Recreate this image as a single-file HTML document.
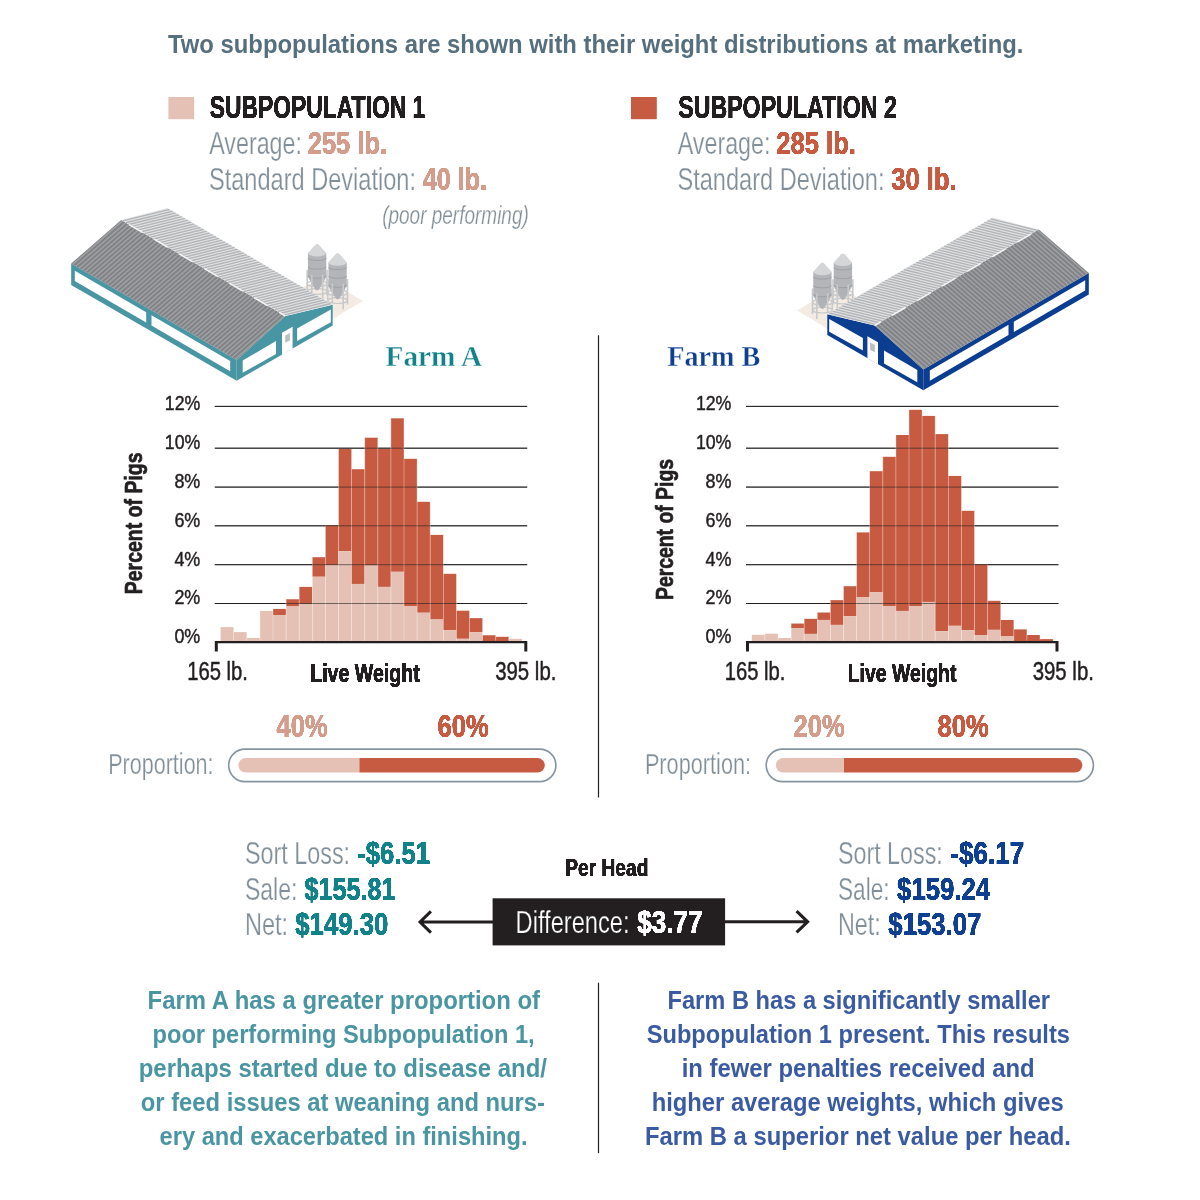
<!DOCTYPE html>
<html lang="en"><head><meta charset="utf-8"><title>Farm subpopulations</title>
<style>html,body{margin:0;padding:0;background:#fff}svg{display:block}</style></head><body>
<svg width="1200" height="1200" viewBox="0 0 1200 1200">
<defs><filter id="bx" x="-3%" y="-12%" width="106%" height="124%" color-interpolation-filters="sRGB"><feGaussianBlur stdDeviation="0.7 0"/><feComponentTransfer><feFuncA type="linear" slope="4"/></feComponentTransfer></filter></defs>
<rect width="1200" height="1200" fill="#fff"/>
<text x="168.00" y="52.50" font-family='"Liberation Sans", sans-serif' font-size="25.44" font-weight="700" fill="#566f7e" textLength="855.40" lengthAdjust="spacingAndGlyphs">Two subpopulations are shown with their weight distributions at marketing.</text>
<rect x="168.4" y="97.0" width="25.8" height="22.2" fill="#e4c1b4"/>
<text x="209.70" y="117.60" font-family='"Liberation Sans", sans-serif' font-size="31.40" font-weight="700" fill="#231f20" filter="url(#bx)" textLength="215.60" lengthAdjust="spacingAndGlyphs">SUBPOPULATION 1</text>
<text x="209.20" y="153.80" font-family='"Liberation Sans", sans-serif' font-size="31.40" font-weight="400" fill="#808f9a" stroke="#fff" stroke-width="0.25" textLength="92.80" lengthAdjust="spacingAndGlyphs">Average:</text>
<text x="307.80" y="153.80" font-family='"Liberation Sans", sans-serif' font-size="31.40" font-weight="700" fill="#d39c8b" filter="url(#bx)" textLength="79.20" lengthAdjust="spacingAndGlyphs">255 lb.</text>
<text x="209.00" y="189.80" font-family='"Liberation Sans", sans-serif' font-size="31.40" font-weight="400" fill="#808f9a" stroke="#fff" stroke-width="0.25" textLength="207.00" lengthAdjust="spacingAndGlyphs">Standard Deviation:</text>
<text x="422.80" y="189.80" font-family='"Liberation Sans", sans-serif' font-size="31.40" font-weight="700" fill="#d39c8b" filter="url(#bx)" textLength="64.20" lengthAdjust="spacingAndGlyphs">40 lb.</text>
<rect x="631.0" y="97.0" width="25.8" height="22.2" fill="#c65b42"/>
<text x="678.20" y="117.60" font-family='"Liberation Sans", sans-serif' font-size="31.40" font-weight="700" fill="#231f20" filter="url(#bx)" textLength="218.60" lengthAdjust="spacingAndGlyphs">SUBPOPULATION 2</text>
<text x="677.70" y="153.80" font-family='"Liberation Sans", sans-serif' font-size="31.40" font-weight="400" fill="#808f9a" stroke="#fff" stroke-width="0.25" textLength="92.80" lengthAdjust="spacingAndGlyphs">Average:</text>
<text x="776.30" y="153.80" font-family='"Liberation Sans", sans-serif' font-size="31.40" font-weight="700" fill="#c65b42" filter="url(#bx)" textLength="79.60" lengthAdjust="spacingAndGlyphs">285 lb.</text>
<text x="677.50" y="189.80" font-family='"Liberation Sans", sans-serif' font-size="31.40" font-weight="400" fill="#808f9a" stroke="#fff" stroke-width="0.25" textLength="207.00" lengthAdjust="spacingAndGlyphs">Standard Deviation:</text>
<text x="891.30" y="189.80" font-family='"Liberation Sans", sans-serif' font-size="31.40" font-weight="700" fill="#c65b42" filter="url(#bx)" textLength="65.40" lengthAdjust="spacingAndGlyphs">30 lb.</text>
<text x="382.20" y="224.30" font-family='"Liberation Sans", sans-serif' font-size="25.58" font-weight="400" fill="#808f9a" font-style="italic" stroke="#fff" stroke-width="0.25" textLength="146.60" lengthAdjust="spacingAndGlyphs">(poor performing)</text>
<line x1="598.5" y1="335.2" x2="598.5" y2="797.4" stroke="#231f20" stroke-width="1.2"/>
<line x1="598.5" y1="982.7" x2="598.5" y2="1153.2" stroke="#231f20" stroke-width="1.2"/>
<text x="385.60" y="365.80" font-family='"Liberation Serif", serif' font-size="30.23" font-weight="700" fill="#11828a" stroke="#fff" stroke-width="0.4" textLength="96.60" lengthAdjust="spacingAndGlyphs">Farm A</text>
<text x="667.20" y="365.80" font-family='"Liberation Serif", serif' font-size="30.23" font-weight="700" fill="#0f3f90" stroke="#fff" stroke-width="0.4" textLength="93.20" lengthAdjust="spacingAndGlyphs">Farm B</text>
<g transform="">
<polygon points="298,290.2 321.9,276.4 362.9,301 331,320" fill="#f4ebe3"/>
<path d="M307.20,269.85 V291.05 M327.00,269.85 V295.25" stroke="#c7c9cb" stroke-width="1.6" fill="none"/><ellipse cx="317.1" cy="283.65" rx="9.9" ry="2.9" fill="none" stroke="#c7c9cb" stroke-width="1.2"/><ellipse cx="317.1" cy="291.45" rx="9.9" ry="2.9" fill="none" stroke="#c7c9cb" stroke-width="1.2"/><path d="M307.95000000000005,275.55 L307.95000000000005,277.05 L315.5,289.65 L317.1,290.45 L318.70000000000005,289.65 L326.25,277.05 L326.25,275.55 Z" fill="#b0b2b5"/><path d="M307.95000000000005,253.04999999999998 L307.95000000000005,275.55 A9.15,2.6 0 0 0 326.25,275.55 L326.25,253.04999999999998 Z" fill="#b3b5b8"/><path d="M307.95000000000005,258.15 A9.15,2.3 0 0 0 326.25,258.15" fill="none" stroke="#97999c" stroke-width="0.75"/><path d="M307.95000000000005,266.85 A9.15,2.3 0 0 0 326.25,266.85" fill="none" stroke="#97999c" stroke-width="0.75"/><path d="M307.95000000000005,275.55 A9.15,2.6 0 0 0 326.25,275.55" fill="none" stroke="#97999c" stroke-width="0.75"/><path d="M307.95000000000005,253.04999999999998 L315.3,244.75 Q317.1,243.15 318.90000000000003,244.75 L326.25,253.04999999999998 A9.15,3.5 0 0 1 307.95000000000005,253.04999999999998 Z" fill="#d4d6d7"/><path d="M311.80,274.65 V293.85 M322.70,274.65 V300.25" stroke="#c7c9cb" stroke-width="1.6" fill="none"/>
<path d="M327.70,279.0 V300.2 M347.50,279.0 V304.4" stroke="#c7c9cb" stroke-width="1.6" fill="none"/><ellipse cx="337.6" cy="292.8" rx="9.9" ry="2.9" fill="none" stroke="#c7c9cb" stroke-width="1.2"/><ellipse cx="337.6" cy="300.6" rx="9.9" ry="2.9" fill="none" stroke="#c7c9cb" stroke-width="1.2"/><path d="M328.45000000000005,284.7 L328.45000000000005,286.2 L336.0,298.8 L337.6,299.6 L339.20000000000005,298.8 L346.75,286.2 L346.75,284.7 Z" fill="#b0b2b5"/><path d="M328.45000000000005,262.2 L328.45000000000005,284.7 A9.15,2.6 0 0 0 346.75,284.7 L346.75,262.2 Z" fill="#b3b5b8"/><path d="M328.45000000000005,267.3 A9.15,2.3 0 0 0 346.75,267.3" fill="none" stroke="#97999c" stroke-width="0.75"/><path d="M328.45000000000005,276.0 A9.15,2.3 0 0 0 346.75,276.0" fill="none" stroke="#97999c" stroke-width="0.75"/><path d="M328.45000000000005,284.7 A9.15,2.6 0 0 0 346.75,284.7" fill="none" stroke="#97999c" stroke-width="0.75"/><path d="M328.45000000000005,262.2 L335.8,253.9 Q337.6,252.3 339.40000000000003,253.9 L346.75,262.2 A9.15,3.5 0 0 1 328.45000000000005,262.2 Z" fill="#d4d6d7"/><path d="M332.30,283.8 V303.0 M343.20,283.8 V309.4" stroke="#c7c9cb" stroke-width="1.6" fill="none"/>
<polygon points="71.2,263.5 236.7,360 236.7,380.7 71.2,285" fill="#4896a3"/>
<polygon points="236.7,360 285.3,316 332.7,304.7 332.7,325.4 236.7,380.7" fill="#4896a3"/>
<polygon points="74.8,270.69 146.2,312.22 146.2,322.42 74.8,280.89" fill="#fff"/>
<polygon points="151.5,315.30 230.2,361.07 230.2,371.27 151.5,325.50" fill="#fff"/>
<polygon points="242.7,360.5 276,341.1 276,353.9 242.7,372.8" fill="#fff"/>
<polygon points="297.1,328.5 330.8,309.6 330.8,322.2 297.1,341.1" fill="#fff"/>
<polygon points="282.0,332.8 292.6,326.8 292.6,348.7 282.0,355.0" fill="#fff"/>
<polygon points="285.1,335.5 289.9,333.1 289.9,340.5 285.1,342.7" fill="#bcbec0"/>
<clipPath id="c85523ba"><polygon points="71.2,263.5 121.2,220 285.3,316 236.7,360"/></clipPath>
<clipPath id="c85523bb"><polygon points="121.2,220 167.5,208.1 332.7,304.7 285.3,316"/></clipPath>
<polygon points="71.2,263.5 121.2,220 285.3,316 236.7,360" fill="#808285"/>
<path d="M72.76,264.41l50,-43.7M75.88,266.23l50,-43.7M79.01,268.05l50,-43.7M82.13,269.87l50,-43.7M85.25,271.69l50,-43.7M88.37,273.51l50,-43.7M91.50,275.33l50,-43.7M94.62,277.16l50,-43.7M97.74,278.98l50,-43.7M100.87,280.80l50,-43.7M103.99,282.62l50,-43.7M107.11,284.44l50,-43.7M110.23,286.26l50,-43.7M113.36,288.08l50,-43.7M116.48,289.90l50,-43.7M119.60,291.72l50,-43.7M122.72,293.54l50,-43.7M125.85,295.36l50,-43.7M128.97,297.18l50,-43.7M132.09,299.00l50,-43.7M135.21,300.83l50,-43.7M138.34,302.65l50,-43.7M141.46,304.47l50,-43.7M144.58,306.29l50,-43.7M147.70,308.11l50,-43.7M150.83,309.93l50,-43.7M153.95,311.75l50,-43.7M157.07,313.57l50,-43.7M160.20,315.39l50,-43.7M163.32,317.21l50,-43.7M166.44,319.03l50,-43.7M169.56,320.85l50,-43.7M172.69,322.67l50,-43.7M175.81,324.50l50,-43.7M178.93,326.32l50,-43.7M182.05,328.14l50,-43.7M185.18,329.96l50,-43.7M188.30,331.78l50,-43.7M191.42,333.60l50,-43.7M194.54,335.42l50,-43.7M197.67,337.24l50,-43.7M200.79,339.06l50,-43.7M203.91,340.88l50,-43.7M207.03,342.70l50,-43.7M210.16,344.52l50,-43.7M213.28,346.34l50,-43.7M216.40,348.17l50,-43.7M219.53,349.99l50,-43.7M222.65,351.81l50,-43.7M225.77,353.63l50,-43.7M228.89,355.45l50,-43.7M232.02,357.27l50,-43.7M235.14,359.09l50,-43.7" stroke="#9d9fa2" stroke-width="1.6" fill="none" clip-path="url(#c85523ba)"/>
<polygon points="121.2,220 167.5,208.1 332.7,304.7 285.3,316" fill="#e1e2e3"/>
<path d="M122.75,220.91l47,-11.6M125.84,222.72l47,-11.6M128.94,224.53l47,-11.6M132.04,226.34l47,-11.6M135.13,228.15l47,-11.6M138.23,229.96l47,-11.6M141.33,231.77l47,-11.6M144.42,233.58l47,-11.6M147.52,235.40l47,-11.6M150.61,237.21l47,-11.6M153.71,239.02l47,-11.6M156.81,240.83l47,-11.6M159.90,242.64l47,-11.6M163.00,244.45l47,-11.6M166.10,246.26l47,-11.6M169.19,248.08l47,-11.6M172.29,249.89l47,-11.6M175.38,251.70l47,-11.6M178.48,253.51l47,-11.6M181.58,255.32l47,-11.6M184.67,257.13l47,-11.6M187.77,258.94l47,-11.6M190.87,260.75l47,-11.6M193.96,262.57l47,-11.6M197.06,264.38l47,-11.6M200.15,266.19l47,-11.6M203.25,268.00l47,-11.6M206.35,269.81l47,-11.6M209.44,271.62l47,-11.6M212.54,273.43l47,-11.6M215.63,275.25l47,-11.6M218.73,277.06l47,-11.6M221.83,278.87l47,-11.6M224.92,280.68l47,-11.6M228.02,282.49l47,-11.6M231.12,284.30l47,-11.6M234.21,286.11l47,-11.6M237.31,287.92l47,-11.6M240.40,289.74l47,-11.6M243.50,291.55l47,-11.6M246.60,293.36l47,-11.6M249.69,295.17l47,-11.6M252.79,296.98l47,-11.6M255.89,298.79l47,-11.6M258.98,300.60l47,-11.6M262.08,302.42l47,-11.6M265.17,304.23l47,-11.6M268.27,306.04l47,-11.6M271.37,307.85l47,-11.6M274.46,309.66l47,-11.6M277.56,311.47l47,-11.6M280.66,313.28l47,-11.6M283.75,315.09l47,-11.6" stroke="#b2b4b7" stroke-width="1.35" fill="none" clip-path="url(#c85523bb)"/>
<line x1="121.2" y1="220" x2="285.3" y2="316" stroke="#f4f4f5" stroke-width="1.5" stroke-dasharray="16 13" stroke-dashoffset="-9"/>
</g>
<g transform="translate(1160,9.5) scale(-1,1)">
<polygon points="298,290.2 321.9,276.4 362.9,301 331,320" fill="#f4ebe3"/>
<path d="M307.20,269.85 V291.05 M327.00,269.85 V295.25" stroke="#c7c9cb" stroke-width="1.6" fill="none"/><ellipse cx="317.1" cy="283.65" rx="9.9" ry="2.9" fill="none" stroke="#c7c9cb" stroke-width="1.2"/><ellipse cx="317.1" cy="291.45" rx="9.9" ry="2.9" fill="none" stroke="#c7c9cb" stroke-width="1.2"/><path d="M307.95000000000005,275.55 L307.95000000000005,277.05 L315.5,289.65 L317.1,290.45 L318.70000000000005,289.65 L326.25,277.05 L326.25,275.55 Z" fill="#b0b2b5"/><path d="M307.95000000000005,253.04999999999998 L307.95000000000005,275.55 A9.15,2.6 0 0 0 326.25,275.55 L326.25,253.04999999999998 Z" fill="#b3b5b8"/><path d="M307.95000000000005,258.15 A9.15,2.3 0 0 0 326.25,258.15" fill="none" stroke="#97999c" stroke-width="0.75"/><path d="M307.95000000000005,266.85 A9.15,2.3 0 0 0 326.25,266.85" fill="none" stroke="#97999c" stroke-width="0.75"/><path d="M307.95000000000005,275.55 A9.15,2.6 0 0 0 326.25,275.55" fill="none" stroke="#97999c" stroke-width="0.75"/><path d="M307.95000000000005,253.04999999999998 L315.3,244.75 Q317.1,243.15 318.90000000000003,244.75 L326.25,253.04999999999998 A9.15,3.5 0 0 1 307.95000000000005,253.04999999999998 Z" fill="#d4d6d7"/><path d="M311.80,274.65 V293.85 M322.70,274.65 V300.25" stroke="#c7c9cb" stroke-width="1.6" fill="none"/>
<path d="M327.70,279.0 V300.2 M347.50,279.0 V304.4" stroke="#c7c9cb" stroke-width="1.6" fill="none"/><ellipse cx="337.6" cy="292.8" rx="9.9" ry="2.9" fill="none" stroke="#c7c9cb" stroke-width="1.2"/><ellipse cx="337.6" cy="300.6" rx="9.9" ry="2.9" fill="none" stroke="#c7c9cb" stroke-width="1.2"/><path d="M328.45000000000005,284.7 L328.45000000000005,286.2 L336.0,298.8 L337.6,299.6 L339.20000000000005,298.8 L346.75,286.2 L346.75,284.7 Z" fill="#b0b2b5"/><path d="M328.45000000000005,262.2 L328.45000000000005,284.7 A9.15,2.6 0 0 0 346.75,284.7 L346.75,262.2 Z" fill="#b3b5b8"/><path d="M328.45000000000005,267.3 A9.15,2.3 0 0 0 346.75,267.3" fill="none" stroke="#97999c" stroke-width="0.75"/><path d="M328.45000000000005,276.0 A9.15,2.3 0 0 0 346.75,276.0" fill="none" stroke="#97999c" stroke-width="0.75"/><path d="M328.45000000000005,284.7 A9.15,2.6 0 0 0 346.75,284.7" fill="none" stroke="#97999c" stroke-width="0.75"/><path d="M328.45000000000005,262.2 L335.8,253.9 Q337.6,252.3 339.40000000000003,253.9 L346.75,262.2 A9.15,3.5 0 0 1 328.45000000000005,262.2 Z" fill="#d4d6d7"/><path d="M332.30,283.8 V303.0 M343.20,283.8 V309.4" stroke="#c7c9cb" stroke-width="1.6" fill="none"/>
<polygon points="71.2,263.5 236.7,360 236.7,380.7 71.2,285" fill="#0b3d91"/>
<polygon points="236.7,360 285.3,316 332.7,304.7 332.7,325.4 236.7,380.7" fill="#0b3d91"/>
<polygon points="74.8,270.69 146.2,312.22 146.2,322.42 74.8,280.89" fill="#fff"/>
<polygon points="151.5,315.30 230.2,361.07 230.2,371.27 151.5,325.50" fill="#fff"/>
<polygon points="242.7,360.5 276,341.1 276,353.9 242.7,372.8" fill="#fff"/>
<polygon points="297.1,328.5 330.8,309.6 330.8,322.2 297.1,341.1" fill="#fff"/>
<polygon points="282.0,332.8 292.6,326.8 292.6,348.7 282.0,355.0" fill="#fff"/>
<polygon points="285.1,335.5 289.9,333.1 289.9,340.5 285.1,342.7" fill="#bcbec0"/>
<clipPath id="c9c04d2a"><polygon points="71.2,263.5 121.2,220 285.3,316 236.7,360"/></clipPath>
<clipPath id="c9c04d2b"><polygon points="121.2,220 167.5,208.1 332.7,304.7 285.3,316"/></clipPath>
<polygon points="71.2,263.5 121.2,220 285.3,316 236.7,360" fill="#808285"/>
<path d="M72.76,264.41l50,-43.7M75.88,266.23l50,-43.7M79.01,268.05l50,-43.7M82.13,269.87l50,-43.7M85.25,271.69l50,-43.7M88.37,273.51l50,-43.7M91.50,275.33l50,-43.7M94.62,277.16l50,-43.7M97.74,278.98l50,-43.7M100.87,280.80l50,-43.7M103.99,282.62l50,-43.7M107.11,284.44l50,-43.7M110.23,286.26l50,-43.7M113.36,288.08l50,-43.7M116.48,289.90l50,-43.7M119.60,291.72l50,-43.7M122.72,293.54l50,-43.7M125.85,295.36l50,-43.7M128.97,297.18l50,-43.7M132.09,299.00l50,-43.7M135.21,300.83l50,-43.7M138.34,302.65l50,-43.7M141.46,304.47l50,-43.7M144.58,306.29l50,-43.7M147.70,308.11l50,-43.7M150.83,309.93l50,-43.7M153.95,311.75l50,-43.7M157.07,313.57l50,-43.7M160.20,315.39l50,-43.7M163.32,317.21l50,-43.7M166.44,319.03l50,-43.7M169.56,320.85l50,-43.7M172.69,322.67l50,-43.7M175.81,324.50l50,-43.7M178.93,326.32l50,-43.7M182.05,328.14l50,-43.7M185.18,329.96l50,-43.7M188.30,331.78l50,-43.7M191.42,333.60l50,-43.7M194.54,335.42l50,-43.7M197.67,337.24l50,-43.7M200.79,339.06l50,-43.7M203.91,340.88l50,-43.7M207.03,342.70l50,-43.7M210.16,344.52l50,-43.7M213.28,346.34l50,-43.7M216.40,348.17l50,-43.7M219.53,349.99l50,-43.7M222.65,351.81l50,-43.7M225.77,353.63l50,-43.7M228.89,355.45l50,-43.7M232.02,357.27l50,-43.7M235.14,359.09l50,-43.7" stroke="#9d9fa2" stroke-width="1.6" fill="none" clip-path="url(#c9c04d2a)"/>
<polygon points="121.2,220 167.5,208.1 332.7,304.7 285.3,316" fill="#e1e2e3"/>
<path d="M122.75,220.91l47,-11.6M125.84,222.72l47,-11.6M128.94,224.53l47,-11.6M132.04,226.34l47,-11.6M135.13,228.15l47,-11.6M138.23,229.96l47,-11.6M141.33,231.77l47,-11.6M144.42,233.58l47,-11.6M147.52,235.40l47,-11.6M150.61,237.21l47,-11.6M153.71,239.02l47,-11.6M156.81,240.83l47,-11.6M159.90,242.64l47,-11.6M163.00,244.45l47,-11.6M166.10,246.26l47,-11.6M169.19,248.08l47,-11.6M172.29,249.89l47,-11.6M175.38,251.70l47,-11.6M178.48,253.51l47,-11.6M181.58,255.32l47,-11.6M184.67,257.13l47,-11.6M187.77,258.94l47,-11.6M190.87,260.75l47,-11.6M193.96,262.57l47,-11.6M197.06,264.38l47,-11.6M200.15,266.19l47,-11.6M203.25,268.00l47,-11.6M206.35,269.81l47,-11.6M209.44,271.62l47,-11.6M212.54,273.43l47,-11.6M215.63,275.25l47,-11.6M218.73,277.06l47,-11.6M221.83,278.87l47,-11.6M224.92,280.68l47,-11.6M228.02,282.49l47,-11.6M231.12,284.30l47,-11.6M234.21,286.11l47,-11.6M237.31,287.92l47,-11.6M240.40,289.74l47,-11.6M243.50,291.55l47,-11.6M246.60,293.36l47,-11.6M249.69,295.17l47,-11.6M252.79,296.98l47,-11.6M255.89,298.79l47,-11.6M258.98,300.60l47,-11.6M262.08,302.42l47,-11.6M265.17,304.23l47,-11.6M268.27,306.04l47,-11.6M271.37,307.85l47,-11.6M274.46,309.66l47,-11.6M277.56,311.47l47,-11.6M280.66,313.28l47,-11.6M283.75,315.09l47,-11.6" stroke="#b2b4b7" stroke-width="1.35" fill="none" clip-path="url(#c9c04d2b)"/>
<line x1="121.2" y1="220" x2="285.3" y2="316" stroke="#f4f4f5" stroke-width="1.5" stroke-dasharray="16 13" stroke-dashoffset="-9"/>
</g>
<line x1="214.8" y1="406.4" x2="527.2" y2="406.4" stroke="#231f20" stroke-width="1"/>
<line x1="214.8" y1="448.2" x2="527.2" y2="448.2" stroke="#231f20" stroke-width="1"/>
<line x1="214.8" y1="487.1" x2="527.2" y2="487.1" stroke="#231f20" stroke-width="1"/>
<line x1="214.8" y1="525.8" x2="527.2" y2="525.8" stroke="#231f20" stroke-width="1"/>
<line x1="214.8" y1="564.7" x2="527.2" y2="564.7" stroke="#231f20" stroke-width="1"/>
<line x1="214.8" y1="603.5" x2="527.2" y2="603.5" stroke="#231f20" stroke-width="1"/>
<rect x="220.60" y="627.15" width="13.10" height="14.25" fill="#e4c1b4"/>
<rect x="233.70" y="632.10" width="13.10" height="9.30" fill="#e4c1b4"/>
<rect x="246.80" y="637.95" width="13.10" height="3.45" fill="#e4c1b4"/>
<rect x="259.90" y="610.95" width="13.10" height="30.45" fill="#e4c1b4"/>
<rect x="273.00" y="608.90" width="13.10" height="6.10" fill="#c65b42"/>
<rect x="273.00" y="615.00" width="13.10" height="26.40" fill="#e4c1b4"/>
<rect x="286.10" y="599.25" width="13.10" height="7.20" fill="#c65b42"/>
<rect x="286.10" y="606.45" width="13.10" height="34.95" fill="#e4c1b4"/>
<rect x="299.20" y="586.90" width="13.10" height="16.85" fill="#c65b42"/>
<rect x="299.20" y="603.75" width="13.10" height="37.65" fill="#e4c1b4"/>
<rect x="312.30" y="557.20" width="13.10" height="19.55" fill="#c65b42"/>
<rect x="312.30" y="576.75" width="13.10" height="64.65" fill="#e4c1b4"/>
<rect x="325.40" y="525.45" width="13.10" height="39.60" fill="#c65b42"/>
<rect x="325.40" y="565.05" width="13.10" height="76.35" fill="#e4c1b4"/>
<rect x="338.50" y="448.95" width="13.10" height="102.15" fill="#c65b42"/>
<rect x="338.50" y="551.10" width="13.10" height="90.30" fill="#e4c1b4"/>
<rect x="351.60" y="469.20" width="13.10" height="114.75" fill="#c65b42"/>
<rect x="351.60" y="583.95" width="13.10" height="57.45" fill="#e4c1b4"/>
<rect x="364.70" y="437.70" width="13.10" height="127.80" fill="#c65b42"/>
<rect x="364.70" y="565.50" width="13.10" height="75.90" fill="#e4c1b4"/>
<rect x="377.80" y="448.95" width="13.10" height="137.95" fill="#c65b42"/>
<rect x="377.80" y="586.90" width="13.10" height="54.50" fill="#e4c1b4"/>
<rect x="390.90" y="418.30" width="13.10" height="153.50" fill="#c65b42"/>
<rect x="390.90" y="571.80" width="13.10" height="69.60" fill="#e4c1b4"/>
<rect x="404.00" y="458.80" width="13.10" height="147.20" fill="#c65b42"/>
<rect x="404.00" y="606.00" width="13.10" height="35.40" fill="#e4c1b4"/>
<rect x="417.10" y="501.80" width="13.10" height="110.95" fill="#c65b42"/>
<rect x="417.10" y="612.75" width="13.10" height="28.65" fill="#e4c1b4"/>
<rect x="430.20" y="534.90" width="13.10" height="84.60" fill="#c65b42"/>
<rect x="430.20" y="619.50" width="13.10" height="21.90" fill="#e4c1b4"/>
<rect x="443.30" y="573.80" width="13.10" height="56.30" fill="#c65b42"/>
<rect x="443.30" y="630.10" width="13.10" height="11.30" fill="#e4c1b4"/>
<rect x="456.40" y="610.70" width="13.10" height="28.10" fill="#c65b42"/>
<rect x="456.40" y="638.80" width="13.10" height="2.60" fill="#e4c1b4"/>
<rect x="469.50" y="618.15" width="13.10" height="13.95" fill="#c65b42"/>
<rect x="469.50" y="632.10" width="13.10" height="9.30" fill="#e4c1b4"/>
<rect x="482.60" y="635.25" width="13.10" height="6.15" fill="#c65b42"/>
<rect x="495.70" y="636.80" width="13.10" height="4.60" fill="#c65b42"/>
<rect x="508.80" y="638.80" width="13.10" height="2.60" fill="#e4c1b4"/>
<line x1="214.8" y1="406.4" x2="527.2" y2="406.4" stroke="#231f20" stroke-width="1" opacity="0.6"/>
<line x1="214.8" y1="448.2" x2="527.2" y2="448.2" stroke="#231f20" stroke-width="1" opacity="0.6"/>
<line x1="214.8" y1="487.1" x2="527.2" y2="487.1" stroke="#231f20" stroke-width="1" opacity="0.6"/>
<line x1="214.8" y1="525.8" x2="527.2" y2="525.8" stroke="#231f20" stroke-width="1" opacity="0.6"/>
<line x1="214.8" y1="564.7" x2="527.2" y2="564.7" stroke="#231f20" stroke-width="1" opacity="0.6"/>
<line x1="214.8" y1="603.5" x2="527.2" y2="603.5" stroke="#231f20" stroke-width="1" opacity="0.6"/>
<line x1="233.70" y1="627.15" x2="233.70" y2="640.2" stroke="#fff" stroke-width="0.6" opacity="0.55"/>
<line x1="246.80" y1="632.10" x2="246.80" y2="640.2" stroke="#fff" stroke-width="0.6" opacity="0.55"/>
<line x1="259.90" y1="610.95" x2="259.90" y2="640.2" stroke="#fff" stroke-width="0.6" opacity="0.55"/>
<line x1="273.00" y1="608.90" x2="273.00" y2="640.2" stroke="#fff" stroke-width="0.6" opacity="0.55"/>
<line x1="286.10" y1="599.25" x2="286.10" y2="640.2" stroke="#fff" stroke-width="0.6" opacity="0.55"/>
<line x1="299.20" y1="586.90" x2="299.20" y2="640.2" stroke="#fff" stroke-width="0.6" opacity="0.55"/>
<line x1="312.30" y1="557.20" x2="312.30" y2="640.2" stroke="#fff" stroke-width="0.6" opacity="0.55"/>
<line x1="325.40" y1="525.45" x2="325.40" y2="640.2" stroke="#fff" stroke-width="0.6" opacity="0.55"/>
<line x1="338.50" y1="448.95" x2="338.50" y2="640.2" stroke="#fff" stroke-width="0.6" opacity="0.55"/>
<line x1="351.60" y1="448.95" x2="351.60" y2="640.2" stroke="#fff" stroke-width="0.6" opacity="0.55"/>
<line x1="364.70" y1="437.70" x2="364.70" y2="640.2" stroke="#fff" stroke-width="0.6" opacity="0.55"/>
<line x1="377.80" y1="437.70" x2="377.80" y2="640.2" stroke="#fff" stroke-width="0.6" opacity="0.55"/>
<line x1="390.90" y1="418.30" x2="390.90" y2="640.2" stroke="#fff" stroke-width="0.6" opacity="0.55"/>
<line x1="404.00" y1="418.30" x2="404.00" y2="640.2" stroke="#fff" stroke-width="0.6" opacity="0.55"/>
<line x1="417.10" y1="458.80" x2="417.10" y2="640.2" stroke="#fff" stroke-width="0.6" opacity="0.55"/>
<line x1="430.20" y1="501.80" x2="430.20" y2="640.2" stroke="#fff" stroke-width="0.6" opacity="0.55"/>
<line x1="443.30" y1="534.90" x2="443.30" y2="640.2" stroke="#fff" stroke-width="0.6" opacity="0.55"/>
<line x1="456.40" y1="573.80" x2="456.40" y2="640.2" stroke="#fff" stroke-width="0.6" opacity="0.55"/>
<line x1="469.50" y1="610.70" x2="469.50" y2="640.2" stroke="#fff" stroke-width="0.6" opacity="0.55"/>
<line x1="482.60" y1="618.15" x2="482.60" y2="640.2" stroke="#fff" stroke-width="0.6" opacity="0.55"/>
<line x1="495.70" y1="635.25" x2="495.70" y2="640.2" stroke="#fff" stroke-width="0.6" opacity="0.55"/>
<line x1="508.80" y1="636.80" x2="508.80" y2="640.2" stroke="#fff" stroke-width="0.6" opacity="0.55"/>
<path d="M214.8,651.5 V641 H527.3 V651.5 H524.3 V643.3 H217.8 V651.5 Z" fill="#231f20"/>
<text x="164.80" y="409.80" font-family='"Liberation Sans", sans-serif' font-size="20.64" font-weight="400" fill="#231f20" stroke="#231f20" stroke-width="0.45" stroke-linejoin="round" textLength="35.50" lengthAdjust="spacingAndGlyphs">12%</text>
<text x="164.80" y="448.80" font-family='"Liberation Sans", sans-serif' font-size="20.64" font-weight="400" fill="#231f20" stroke="#231f20" stroke-width="0.45" stroke-linejoin="round" textLength="35.50" lengthAdjust="spacingAndGlyphs">10%</text>
<text x="174.40" y="487.60" font-family='"Liberation Sans", sans-serif' font-size="20.64" font-weight="400" fill="#231f20" stroke="#231f20" stroke-width="0.45" stroke-linejoin="round" textLength="25.90" lengthAdjust="spacingAndGlyphs">8%</text>
<text x="174.40" y="526.60" font-family='"Liberation Sans", sans-serif' font-size="20.64" font-weight="400" fill="#231f20" stroke="#231f20" stroke-width="0.45" stroke-linejoin="round" textLength="25.90" lengthAdjust="spacingAndGlyphs">6%</text>
<text x="174.40" y="565.50" font-family='"Liberation Sans", sans-serif' font-size="20.64" font-weight="400" fill="#231f20" stroke="#231f20" stroke-width="0.45" stroke-linejoin="round" textLength="25.90" lengthAdjust="spacingAndGlyphs">4%</text>
<text x="174.40" y="604.10" font-family='"Liberation Sans", sans-serif' font-size="20.64" font-weight="400" fill="#231f20" stroke="#231f20" stroke-width="0.45" stroke-linejoin="round" textLength="25.90" lengthAdjust="spacingAndGlyphs">2%</text>
<text x="174.40" y="642.80" font-family='"Liberation Sans", sans-serif' font-size="20.64" font-weight="400" fill="#231f20" stroke="#231f20" stroke-width="0.45" stroke-linejoin="round" textLength="25.90" lengthAdjust="spacingAndGlyphs">0%</text>
<g transform="translate(142.3,594) rotate(-90)">
<text x="-0.20" y="0.00" font-family='"Liberation Sans", sans-serif' font-size="24.71" font-weight="700" fill="#231f20" stroke="#231f20" stroke-width="0.7" stroke-linejoin="round" textLength="141.70" lengthAdjust="spacingAndGlyphs">Percent of Pigs</text>
</g>
<text x="187.20" y="679.70" font-family='"Liberation Sans", sans-serif' font-size="25.58" font-weight="400" fill="#231f20" stroke="#231f20" stroke-width="0.5" stroke-linejoin="round" textLength="60.70" lengthAdjust="spacingAndGlyphs">165 lb.</text>
<text x="310.20" y="681.80" font-family='"Liberation Sans", sans-serif' font-size="25.15" font-weight="700" fill="#231f20" filter="url(#bx)" textLength="109.50" lengthAdjust="spacingAndGlyphs">Live Weight</text>
<text x="495.20" y="679.70" font-family='"Liberation Sans", sans-serif' font-size="25.58" font-weight="400" fill="#231f20" stroke="#231f20" stroke-width="0.5" stroke-linejoin="round" textLength="61.20" lengthAdjust="spacingAndGlyphs">395 lb.</text>
<line x1="746.0" y1="406.4" x2="1058.4" y2="406.4" stroke="#231f20" stroke-width="1"/>
<line x1="746.0" y1="448.2" x2="1058.4" y2="448.2" stroke="#231f20" stroke-width="1"/>
<line x1="746.0" y1="487.1" x2="1058.4" y2="487.1" stroke="#231f20" stroke-width="1"/>
<line x1="746.0" y1="525.8" x2="1058.4" y2="525.8" stroke="#231f20" stroke-width="1"/>
<line x1="746.0" y1="564.7" x2="1058.4" y2="564.7" stroke="#231f20" stroke-width="1"/>
<line x1="746.0" y1="603.5" x2="1058.4" y2="603.5" stroke="#231f20" stroke-width="1"/>
<rect x="751.80" y="634.80" width="13.10" height="6.60" fill="#e4c1b4"/>
<rect x="764.90" y="633.70" width="13.10" height="7.70" fill="#e4c1b4"/>
<rect x="778.00" y="637.95" width="13.10" height="3.45" fill="#e4c1b4"/>
<rect x="791.10" y="623.55" width="13.10" height="4.50" fill="#c65b42"/>
<rect x="791.10" y="628.05" width="13.10" height="13.35" fill="#e4c1b4"/>
<rect x="804.20" y="618.80" width="13.10" height="15.10" fill="#c65b42"/>
<rect x="804.20" y="633.90" width="13.10" height="7.50" fill="#e4c1b4"/>
<rect x="817.30" y="612.50" width="13.10" height="7.45" fill="#c65b42"/>
<rect x="817.30" y="619.95" width="13.10" height="21.45" fill="#e4c1b4"/>
<rect x="830.40" y="600.15" width="13.10" height="24.75" fill="#c65b42"/>
<rect x="830.40" y="624.90" width="13.10" height="16.50" fill="#e4c1b4"/>
<rect x="843.50" y="586.20" width="13.10" height="29.90" fill="#c65b42"/>
<rect x="843.50" y="616.10" width="13.10" height="25.30" fill="#e4c1b4"/>
<rect x="856.60" y="532.40" width="13.10" height="64.60" fill="#c65b42"/>
<rect x="856.60" y="597.00" width="13.10" height="44.40" fill="#e4c1b4"/>
<rect x="869.70" y="471.20" width="13.10" height="120.85" fill="#c65b42"/>
<rect x="869.70" y="592.05" width="13.10" height="49.35" fill="#e4c1b4"/>
<rect x="882.80" y="456.80" width="13.10" height="149.20" fill="#c65b42"/>
<rect x="882.80" y="606.00" width="13.10" height="35.40" fill="#e4c1b4"/>
<rect x="895.90" y="435.00" width="13.10" height="175.95" fill="#c65b42"/>
<rect x="895.90" y="610.95" width="13.10" height="30.45" fill="#e4c1b4"/>
<rect x="909.00" y="409.80" width="13.10" height="196.20" fill="#c65b42"/>
<rect x="909.00" y="606.00" width="13.10" height="35.40" fill="#e4c1b4"/>
<rect x="922.10" y="415.90" width="13.10" height="186.05" fill="#c65b42"/>
<rect x="922.10" y="601.95" width="13.10" height="39.45" fill="#e4c1b4"/>
<rect x="935.20" y="434.10" width="13.10" height="197.10" fill="#c65b42"/>
<rect x="935.20" y="631.20" width="13.10" height="10.20" fill="#e4c1b4"/>
<rect x="948.30" y="475.95" width="13.10" height="149.85" fill="#c65b42"/>
<rect x="948.30" y="625.80" width="13.10" height="15.60" fill="#e4c1b4"/>
<rect x="961.40" y="510.80" width="13.10" height="119.30" fill="#c65b42"/>
<rect x="961.40" y="630.10" width="13.10" height="11.30" fill="#e4c1b4"/>
<rect x="974.50" y="564.40" width="13.10" height="70.60" fill="#c65b42"/>
<rect x="974.50" y="635.00" width="13.10" height="6.40" fill="#e4c1b4"/>
<rect x="987.60" y="600.80" width="13.10" height="29.05" fill="#c65b42"/>
<rect x="987.60" y="629.85" width="13.10" height="11.55" fill="#e4c1b4"/>
<rect x="1000.70" y="619.95" width="13.10" height="16.45" fill="#c65b42"/>
<rect x="1000.70" y="636.40" width="13.10" height="5.00" fill="#e4c1b4"/>
<rect x="1013.80" y="629.40" width="13.10" height="12.00" fill="#c65b42"/>
<rect x="1026.90" y="635.00" width="13.10" height="6.40" fill="#c65b42"/>
<rect x="1040.00" y="639.10" width="13.10" height="2.30" fill="#c65b42"/>
<line x1="746.0" y1="406.4" x2="1058.4" y2="406.4" stroke="#231f20" stroke-width="1" opacity="0.6"/>
<line x1="746.0" y1="448.2" x2="1058.4" y2="448.2" stroke="#231f20" stroke-width="1" opacity="0.6"/>
<line x1="746.0" y1="487.1" x2="1058.4" y2="487.1" stroke="#231f20" stroke-width="1" opacity="0.6"/>
<line x1="746.0" y1="525.8" x2="1058.4" y2="525.8" stroke="#231f20" stroke-width="1" opacity="0.6"/>
<line x1="746.0" y1="564.7" x2="1058.4" y2="564.7" stroke="#231f20" stroke-width="1" opacity="0.6"/>
<line x1="746.0" y1="603.5" x2="1058.4" y2="603.5" stroke="#231f20" stroke-width="1" opacity="0.6"/>
<line x1="764.90" y1="633.70" x2="764.90" y2="640.2" stroke="#fff" stroke-width="0.6" opacity="0.55"/>
<line x1="778.00" y1="633.70" x2="778.00" y2="640.2" stroke="#fff" stroke-width="0.6" opacity="0.55"/>
<line x1="791.10" y1="623.55" x2="791.10" y2="640.2" stroke="#fff" stroke-width="0.6" opacity="0.55"/>
<line x1="804.20" y1="618.80" x2="804.20" y2="640.2" stroke="#fff" stroke-width="0.6" opacity="0.55"/>
<line x1="817.30" y1="612.50" x2="817.30" y2="640.2" stroke="#fff" stroke-width="0.6" opacity="0.55"/>
<line x1="830.40" y1="600.15" x2="830.40" y2="640.2" stroke="#fff" stroke-width="0.6" opacity="0.55"/>
<line x1="843.50" y1="586.20" x2="843.50" y2="640.2" stroke="#fff" stroke-width="0.6" opacity="0.55"/>
<line x1="856.60" y1="532.40" x2="856.60" y2="640.2" stroke="#fff" stroke-width="0.6" opacity="0.55"/>
<line x1="869.70" y1="471.20" x2="869.70" y2="640.2" stroke="#fff" stroke-width="0.6" opacity="0.55"/>
<line x1="882.80" y1="456.80" x2="882.80" y2="640.2" stroke="#fff" stroke-width="0.6" opacity="0.55"/>
<line x1="895.90" y1="435.00" x2="895.90" y2="640.2" stroke="#fff" stroke-width="0.6" opacity="0.55"/>
<line x1="909.00" y1="409.80" x2="909.00" y2="640.2" stroke="#fff" stroke-width="0.6" opacity="0.55"/>
<line x1="922.10" y1="409.80" x2="922.10" y2="640.2" stroke="#fff" stroke-width="0.6" opacity="0.55"/>
<line x1="935.20" y1="415.90" x2="935.20" y2="640.2" stroke="#fff" stroke-width="0.6" opacity="0.55"/>
<line x1="948.30" y1="434.10" x2="948.30" y2="640.2" stroke="#fff" stroke-width="0.6" opacity="0.55"/>
<line x1="961.40" y1="475.95" x2="961.40" y2="640.2" stroke="#fff" stroke-width="0.6" opacity="0.55"/>
<line x1="974.50" y1="510.80" x2="974.50" y2="640.2" stroke="#fff" stroke-width="0.6" opacity="0.55"/>
<line x1="987.60" y1="564.40" x2="987.60" y2="640.2" stroke="#fff" stroke-width="0.6" opacity="0.55"/>
<line x1="1000.70" y1="600.80" x2="1000.70" y2="640.2" stroke="#fff" stroke-width="0.6" opacity="0.55"/>
<line x1="1013.80" y1="619.95" x2="1013.80" y2="640.2" stroke="#fff" stroke-width="0.6" opacity="0.55"/>
<line x1="1026.90" y1="629.40" x2="1026.90" y2="640.2" stroke="#fff" stroke-width="0.6" opacity="0.55"/>
<line x1="1040.00" y1="635.00" x2="1040.00" y2="640.2" stroke="#fff" stroke-width="0.6" opacity="0.55"/>
<path d="M746.0,651.5 V641 H1058.5 V651.5 H1055.5 V643.3 H749.0 V651.5 Z" fill="#231f20"/>
<text x="695.90" y="409.80" font-family='"Liberation Sans", sans-serif' font-size="20.64" font-weight="400" fill="#231f20" stroke="#231f20" stroke-width="0.45" stroke-linejoin="round" textLength="35.50" lengthAdjust="spacingAndGlyphs">12%</text>
<text x="695.90" y="448.80" font-family='"Liberation Sans", sans-serif' font-size="20.64" font-weight="400" fill="#231f20" stroke="#231f20" stroke-width="0.45" stroke-linejoin="round" textLength="35.50" lengthAdjust="spacingAndGlyphs">10%</text>
<text x="705.50" y="487.60" font-family='"Liberation Sans", sans-serif' font-size="20.64" font-weight="400" fill="#231f20" stroke="#231f20" stroke-width="0.45" stroke-linejoin="round" textLength="25.90" lengthAdjust="spacingAndGlyphs">8%</text>
<text x="705.50" y="526.60" font-family='"Liberation Sans", sans-serif' font-size="20.64" font-weight="400" fill="#231f20" stroke="#231f20" stroke-width="0.45" stroke-linejoin="round" textLength="25.90" lengthAdjust="spacingAndGlyphs">6%</text>
<text x="705.50" y="565.50" font-family='"Liberation Sans", sans-serif' font-size="20.64" font-weight="400" fill="#231f20" stroke="#231f20" stroke-width="0.45" stroke-linejoin="round" textLength="25.90" lengthAdjust="spacingAndGlyphs">4%</text>
<text x="705.50" y="604.10" font-family='"Liberation Sans", sans-serif' font-size="20.64" font-weight="400" fill="#231f20" stroke="#231f20" stroke-width="0.45" stroke-linejoin="round" textLength="25.90" lengthAdjust="spacingAndGlyphs">2%</text>
<text x="705.50" y="642.80" font-family='"Liberation Sans", sans-serif' font-size="20.64" font-weight="400" fill="#231f20" stroke="#231f20" stroke-width="0.45" stroke-linejoin="round" textLength="25.90" lengthAdjust="spacingAndGlyphs">0%</text>
<g transform="translate(672.8,599.8) rotate(-90)">
<text x="-0.20" y="0.00" font-family='"Liberation Sans", sans-serif' font-size="24.71" font-weight="700" fill="#231f20" stroke="#231f20" stroke-width="0.7" stroke-linejoin="round" textLength="141.00" lengthAdjust="spacingAndGlyphs">Percent of Pigs</text>
</g>
<text x="724.70" y="679.70" font-family='"Liberation Sans", sans-serif' font-size="25.58" font-weight="400" fill="#231f20" stroke="#231f20" stroke-width="0.5" stroke-linejoin="round" textLength="60.70" lengthAdjust="spacingAndGlyphs">165 lb.</text>
<text x="847.70" y="681.80" font-family='"Liberation Sans", sans-serif' font-size="25.15" font-weight="700" fill="#231f20" filter="url(#bx)" textLength="108.70" lengthAdjust="spacingAndGlyphs">Live Weight</text>
<text x="1032.70" y="679.70" font-family='"Liberation Sans", sans-serif' font-size="25.58" font-weight="400" fill="#231f20" stroke="#231f20" stroke-width="0.5" stroke-linejoin="round" textLength="61.20" lengthAdjust="spacingAndGlyphs">395 lb.</text>
<text x="108.20" y="773.80" font-family='"Liberation Sans", sans-serif' font-size="28.78" font-weight="400" fill="#808f9a" stroke="#fff" stroke-width="0.25" textLength="105.40" lengthAdjust="spacingAndGlyphs">Proportion:</text>
<rect x="228.7" y="749.1" width="327.2" height="32.5" rx="16.25" fill="#fff" stroke="#8594a0" stroke-width="1.6"/>
<path d="M245.7,758 H359.4 V772.6 H245.7 A7.3,7.3 0 0 1 245.7,758 Z" fill="#e4c1b4"/>
<path d="M359.4,758 H537.5 A7.3,7.3 0 0 1 537.5,772.6 H359.4 Z" fill="#c65b42"/>
<text x="276.60" y="736.80" font-family='"Liberation Sans", sans-serif' font-size="31.40" font-weight="700" fill="#d39c8b" filter="url(#bx)" textLength="51.00" lengthAdjust="spacingAndGlyphs">40%</text>
<text x="437.60" y="736.80" font-family='"Liberation Sans", sans-serif' font-size="31.40" font-weight="700" fill="#c65b42" filter="url(#bx)" textLength="51.20" lengthAdjust="spacingAndGlyphs">60%</text>
<text x="644.90" y="773.80" font-family='"Liberation Sans", sans-serif' font-size="28.78" font-weight="400" fill="#808f9a" stroke="#fff" stroke-width="0.25" textLength="106.20" lengthAdjust="spacingAndGlyphs">Proportion:</text>
<rect x="766.2" y="749.1" width="327.2" height="32.5" rx="16.25" fill="#fff" stroke="#8594a0" stroke-width="1.6"/>
<path d="M783.2,758 H844 V772.6 H783.2 A7.3,7.3 0 0 1 783.2,758 Z" fill="#e4c1b4"/>
<path d="M844,758 H1075.0 A7.3,7.3 0 0 1 1075.0,772.6 H844 Z" fill="#c65b42"/>
<text x="793.60" y="736.80" font-family='"Liberation Sans", sans-serif' font-size="31.40" font-weight="700" fill="#d39c8b" filter="url(#bx)" textLength="51.00" lengthAdjust="spacingAndGlyphs">20%</text>
<text x="937.60" y="736.80" font-family='"Liberation Sans", sans-serif' font-size="31.40" font-weight="700" fill="#c65b42" filter="url(#bx)" textLength="51.20" lengthAdjust="spacingAndGlyphs">80%</text>
<text x="244.90" y="863.80" font-family='"Liberation Sans", sans-serif' font-size="31.40" font-weight="400" fill="#808f9a" stroke="#fff" stroke-width="0.25" textLength="105.20" lengthAdjust="spacingAndGlyphs">Sort Loss:</text>
<text x="357.30" y="863.80" font-family='"Liberation Sans", sans-serif' font-size="31.40" font-weight="700" fill="#11828a" filter="url(#bx)" textLength="72.60" lengthAdjust="spacingAndGlyphs">-$6.51</text>
<text x="244.90" y="899.50" font-family='"Liberation Sans", sans-serif' font-size="31.40" font-weight="400" fill="#808f9a" stroke="#fff" stroke-width="0.25" textLength="52.60" lengthAdjust="spacingAndGlyphs">Sale:</text>
<text x="304.60" y="899.50" font-family='"Liberation Sans", sans-serif' font-size="31.40" font-weight="700" fill="#11828a" filter="url(#bx)" textLength="91.00" lengthAdjust="spacingAndGlyphs">$155.81</text>
<text x="244.90" y="935.20" font-family='"Liberation Sans", sans-serif' font-size="31.40" font-weight="400" fill="#808f9a" stroke="#fff" stroke-width="0.25" textLength="43.20" lengthAdjust="spacingAndGlyphs">Net:</text>
<text x="295.30" y="935.20" font-family='"Liberation Sans", sans-serif' font-size="31.40" font-weight="700" fill="#11828a" filter="url(#bx)" textLength="93.00" lengthAdjust="spacingAndGlyphs">$149.30</text>
<text x="837.95" y="863.80" font-family='"Liberation Sans", sans-serif' font-size="31.40" font-weight="400" fill="#808f9a" stroke="#fff" stroke-width="0.25" textLength="104.85" lengthAdjust="spacingAndGlyphs">Sort Loss:</text>
<text x="950.35" y="863.80" font-family='"Liberation Sans", sans-serif' font-size="31.40" font-weight="700" fill="#0f3f90" filter="url(#bx)" textLength="74.00" lengthAdjust="spacingAndGlyphs">-$6.17</text>
<text x="837.95" y="899.50" font-family='"Liberation Sans", sans-serif' font-size="31.40" font-weight="400" fill="#808f9a" stroke="#fff" stroke-width="0.25" textLength="51.60" lengthAdjust="spacingAndGlyphs">Sale:</text>
<text x="897.10" y="899.50" font-family='"Liberation Sans", sans-serif' font-size="31.40" font-weight="700" fill="#0f3f90" filter="url(#bx)" textLength="93.00" lengthAdjust="spacingAndGlyphs">$159.24</text>
<text x="837.95" y="935.20" font-family='"Liberation Sans", sans-serif' font-size="31.40" font-weight="400" fill="#808f9a" stroke="#fff" stroke-width="0.25" textLength="42.85" lengthAdjust="spacingAndGlyphs">Net:</text>
<text x="888.35" y="935.20" font-family='"Liberation Sans", sans-serif' font-size="31.40" font-weight="700" fill="#0f3f90" filter="url(#bx)" textLength="93.00" lengthAdjust="spacingAndGlyphs">$153.07</text>
<text x="565.30" y="875.60" font-family='"Liberation Sans", sans-serif' font-size="24.71" font-weight="700" fill="#231f20" filter="url(#bx)" textLength="83.10" lengthAdjust="spacingAndGlyphs">Per Head</text>
<rect x="492.6" y="898.3" width="232.5" height="47.1" fill="#231f20"/>
<text x="515.60" y="932.90" font-family='"Liberation Sans", sans-serif' font-size="31.40" font-weight="400" fill="#fff" stroke="#231f20" stroke-width="0.25" textLength="114.00" lengthAdjust="spacingAndGlyphs">Difference:</text>
<text x="637.20" y="932.90" font-family='"Liberation Sans", sans-serif' font-size="31.40" font-weight="700" fill="#fff" filter="url(#bx)" textLength="65.20" lengthAdjust="spacingAndGlyphs">$3.77</text>
<path d="M493,922 H419.5 M430.9,911.4 L420.1,922 L430.9,932.6" fill="none" stroke="#231f20" stroke-width="3.1" stroke-linejoin="miter"/>
<path d="M725,921.8 H808.2 M796.6,911.2 L807.6,921.8 L796.6,932.4" fill="none" stroke="#231f20" stroke-width="3.1" stroke-linejoin="miter"/>
<text x="147.60" y="1008.80" font-family='"Liberation Sans", sans-serif' font-size="25.44" font-weight="700" fill="#4a95a2" textLength="392.40" lengthAdjust="spacingAndGlyphs">Farm A has a greater proportion of</text>
<text x="152.50" y="1042.80" font-family='"Liberation Sans", sans-serif' font-size="25.44" font-weight="700" fill="#4a95a2" textLength="382.10" lengthAdjust="spacingAndGlyphs">poor performing Subpopulation 1,</text>
<text x="138.75" y="1076.80" font-family='"Liberation Sans", sans-serif' font-size="25.44" font-weight="700" fill="#4a95a2" textLength="408.25" lengthAdjust="spacingAndGlyphs">perhaps started due to disease and/</text>
<text x="140.80" y="1110.80" font-family='"Liberation Sans", sans-serif' font-size="25.44" font-weight="700" fill="#4a95a2" textLength="404.20" lengthAdjust="spacingAndGlyphs">or feed issues at weaning and nurs-</text>
<text x="159.60" y="1144.80" font-family='"Liberation Sans", sans-serif' font-size="25.44" font-weight="700" fill="#4a95a2" textLength="367.90" lengthAdjust="spacingAndGlyphs">ery and exacerbated in finishing.</text>
<text x="667.50" y="1008.80" font-family='"Liberation Sans", sans-serif' font-size="25.44" font-weight="700" fill="#3a5aa2" textLength="382.50" lengthAdjust="spacingAndGlyphs">Farm B has a significantly smaller</text>
<text x="646.70" y="1042.80" font-family='"Liberation Sans", sans-serif' font-size="25.44" font-weight="700" fill="#3a5aa2" textLength="423.30" lengthAdjust="spacingAndGlyphs">Subpopulation 1 present. This results</text>
<text x="681.70" y="1076.80" font-family='"Liberation Sans", sans-serif' font-size="25.44" font-weight="700" fill="#3a5aa2" textLength="352.90" lengthAdjust="spacingAndGlyphs">in fewer penalties received and</text>
<text x="651.70" y="1110.80" font-family='"Liberation Sans", sans-serif' font-size="25.44" font-weight="700" fill="#3a5aa2" textLength="412.05" lengthAdjust="spacingAndGlyphs">higher average weights, which gives</text>
<text x="645.00" y="1144.80" font-family='"Liberation Sans", sans-serif' font-size="25.44" font-weight="700" fill="#3a5aa2" textLength="425.80" lengthAdjust="spacingAndGlyphs">Farm B a superior net value per head.</text>
</svg></body></html>
